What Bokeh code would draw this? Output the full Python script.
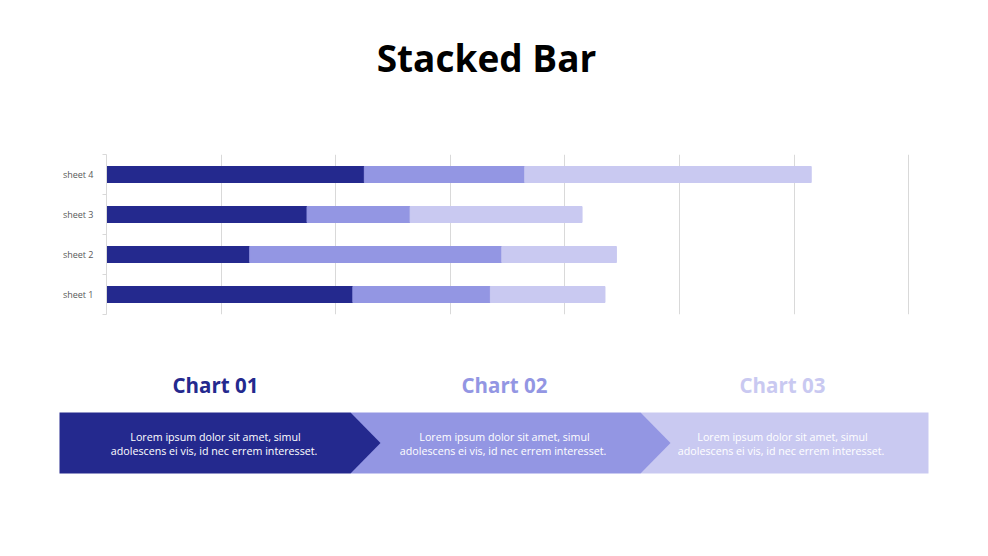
from bokeh.plotting import figure
from bokeh.layouts import column
from bokeh.models import ColumnDataSource, Range1d, FixedTicker
from bokeh.core.properties import value
from bokeh.embed import file_html
from bokeh.resources import INLINE

# chart data
sheets = ["sheet 1", "sheet 2", "sheet 3", "sheet 4"]
series_1 = [4.3, 2.5, 3.5, 4.5]
series_2 = [2.4, 4.4, 1.8, 2.8]
series_3 = [2.0, 2.0, 3.0, 5.0]
x_ticks = [0, 2, 4, 6, 8, 10, 12, 14]

# text under the chart
chart_titles = ["Chart 01", "Chart 02", "Chart 03"]
chart_lines = ["Lorem ipsum dolor sit amet, simul",
               "adolescens ei vis, id nec errem  interesset."]

colors = ["#24298e", "#9396e3", "#c9c9f1"]
FONT = value("Open Sans")
W = 988


def blank_figure(height, top):
    """Empty figure whose coordinates are page pixels (y pointing down)."""
    f = figure(width=W, height=height, x_range=Range1d(0, W),
               y_range=Range1d(top + height, top), toolbar_location=None,
               output_backend="svg", x_axis_location=None, y_axis_location=None,
               min_border=0, frame_align=False)
    f.grid.visible = False
    f.outline_line_color = None
    return f


# title
top = blank_figure(144, 0)
top.text(x=[486], y=[57], text=["Stacked Bar"], text_font=FONT, text_font_style="bold",
         text_font_size="37px", text_align="center", text_baseline="middle",
         text_color="black")

# stacked bars
ys = list(range(1, len(sheets) + 1))
source = ColumnDataSource(dict(y=ys, s1=series_1, s2=series_2, s3=series_3))

# range goes a hair past the last tick so its gridline is drawn
p = figure(width=W, height=190, x_range=Range1d(0, x_ticks[-1] + 0.05),
           y_range=Range1d(0.5, len(sheets) + 0.5), x_axis_location=None,
           toolbar_location=None, output_backend="svg", frame_align=False,
           min_border_left=106, min_border_right=77, min_border_top=10, min_border_bottom=20)
p.hbar_stack(["s1", "s2", "s3"], y="y", height=0.4, color=colors, source=source)
p.outline_line_color = None
p.ygrid.visible = False
p.xgrid.ticker = FixedTicker(ticks=x_ticks)
p.xgrid.grid_line_color = "#d9d9d9"
p.yaxis.ticker = FixedTicker(ticks=ys, minor_ticks=[y - 0.5 for y in ys] + [ys[-1] + 0.5])
p.yaxis.major_label_overrides = {y: s for y, s in zip(ys, sheets)}
p.yaxis.major_tick_out = 0
p.yaxis.major_tick_in = 0
p.yaxis.minor_tick_out = 4
p.yaxis.minor_tick_in = 0
p.yaxis.minor_tick_line_color = "#d9d9d9"
p.yaxis.axis_line_color = "#d9d9d9"
p.yaxis.major_label_standoff = 9
p.yaxis.major_label_text_font = "Open Sans"
p.yaxis.major_label_text_font_size = "9px"
p.yaxis.major_label_text_color = "#595959"

# chevron boxes with their captions
bottom = blank_figure(222, 334)
starts = [59, 350, 640]
ends = [350, 640, 928]
band_top, band_bottom = 412, 473
mid = (band_top + band_bottom) / 2
xs, yss = [], []
for i in range(len(starts)):
    tip = 30 if i < len(starts) - 1 else 0
    xs.append([starts[i], ends[i], ends[i] + tip, ends[i], starts[i]])
    yss.append([band_top, band_top, mid, band_bottom, band_bottom])
bottom.patches(xs[::-1], yss[::-1], fill_color=colors[::-1], line_color=None)

centers = [215, 504, 782]
bottom.text(x=centers, y=[384.5] * 3, text=chart_titles, text_color=colors, text_font=FONT,
            text_font_style="bold", text_font_size="20.5px", text_align="center",
            text_baseline="middle")
for k, line in enumerate(chart_lines):
    bottom.text(x=centers, y=[436 + 14 * k] * 3, text=[line] * 3, text_color="white",
                text_font=FONT, text_font_size="10.7px", text_align="center",
                text_baseline="middle")

layout = column(top, p, bottom, spacing=0)
open("out.html", "w").write(file_html(layout, INLINE))
